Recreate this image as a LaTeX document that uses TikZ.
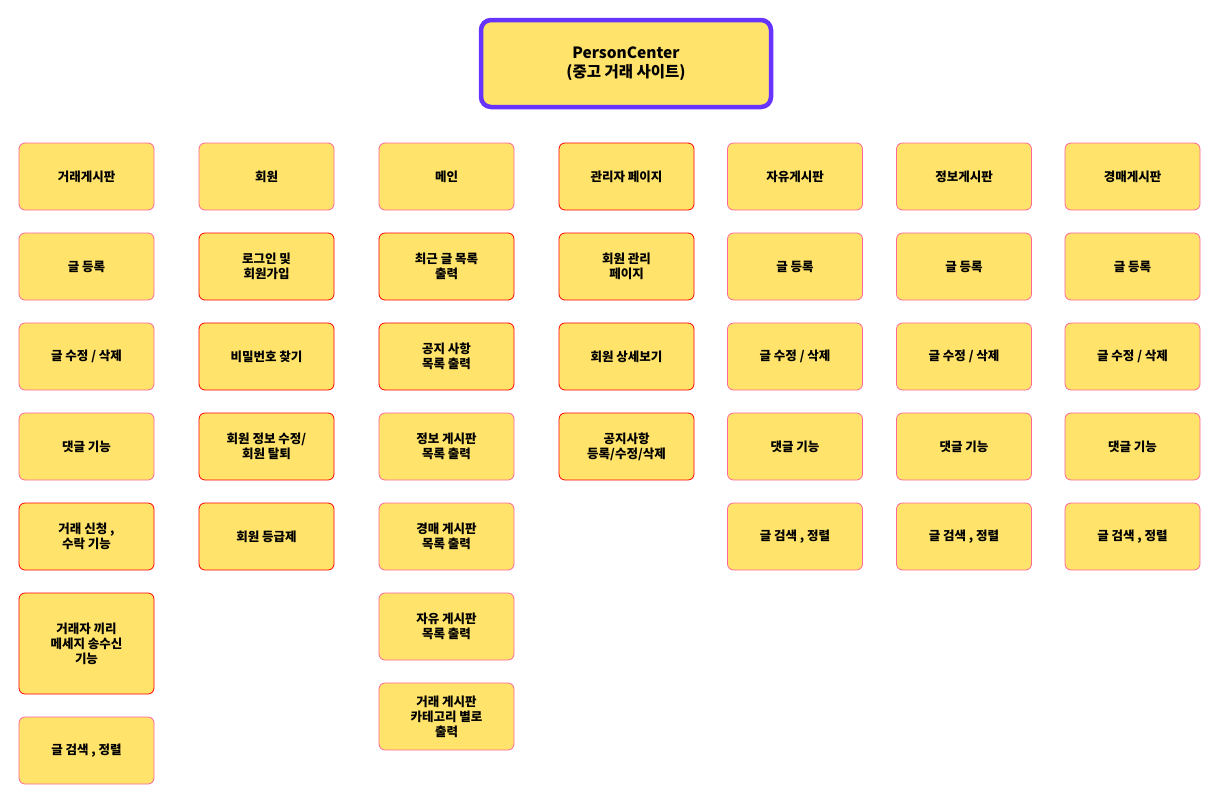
\documentclass[tikz,border=0pt]{standalone}
\usepackage{fontspec}
\setmainfont{Noto Sans CJK KR}
\definecolor{boxfill}{HTML}{FFE36B}
\definecolor{pinkb}{HTML}{FF6699}
\definecolor{redb}{HTML}{FF0000}
\definecolor{purp}{HTML}{6633FF}
\tikzset{
 bx/.style={draw=pinkb,fill=boxfill,rounded corners=6pt,minimum width=135pt,minimum height=67pt,align=center,font=\fontsize{12.5}{15}\selectfont\bfseries,inner sep=2pt,line width=0.8pt},
 rb/.style={bx,draw=redb},
}
\begin{document}
\begin{tikzpicture}[x=1pt,y=-1pt]
\useasboundingbox (0,0) rectangle (1216,796);
\node[draw=purp,line width=4.5pt,fill=boxfill,rounded corners=10pt,minimum width=290pt,minimum height=87pt,align=center,font=\fontsize{15.5}{19}\selectfont\bfseries] (title) at (626,63.5) {PersonCenter\\(중고 거래 사이트)};
% column 1
\node[bx] (a1) at (86.5,176.5) {거래게시판};
\node[bx] (a2) at (86.5,266.5) {글 등록};
\node[bx] (a3) at (86.5,356.5) {글 수정 / 삭제};
\node[bx] (a4) at (86.5,446.5) {댓글 기능};
\node[rb] (a5) at (86.5,536.5) {거래 신청 ,\\수락 기능};
\node[rb,minimum height=101pt] (a6) at (86.5,643.5) {거래자 끼리\\메세지 송수신\\기능};
\node[bx] (a7) at (86.5,750.5) {글 검색 , 정렬};
% column 2
\node[bx] (b1) at (266.5,176.5) {회원};
\node[rb] (b2) at (266.5,266.5) {로그인 및\\회원가입};
\node[rb] (b3) at (266.5,356.5) {비밀번호 찾기};
\node[rb] (b4) at (266.5,446.5) {회원 정보 수정/\\회원 탈퇴};
\node[rb] (b5) at (266.5,536.5) {회원 등급제};
% column 3
\node[bx] (c1) at (446.5,176.5) {메인};
\node[rb] (c2) at (446.5,266.5) {최근 글 목록\\출력};
\node[rb] (c3) at (446.5,356.5) {공지 사항\\목록 출력};
\node[bx] (c4) at (446.5,446.5) {정보 게시판\\목록 출력};
\node[bx] (c5) at (446.5,536.5) {경매 게시판\\목록 출력};
\node[bx] (c6) at (446.5,626.5) {자유 게시판\\목록 출력};
\node[bx] (c7) at (446.5,716.5) {거래 게시판\\카테고리 별로\\출력};
% column 4
\node[rb] (d1) at (626.5,176.5) {관리자 페이지};
\node[rb] (d2) at (626.5,266.5) {회원 관리\\페이지};
\node[rb] (d3) at (626.5,356.5) {회원 상세보기};
\node[rb] (d4) at (626.5,446.5) {공지사항\\등록/수정/삭제};
% columns 5-7
\foreach \n/\x/\t in {e/795/자유게시판,f/964/정보게시판,g/1132.5/경매게시판}{
 \node[bx] (\n1) at (\x,176.5) {\t};
 \node[bx] (\n2) at (\x,266.5) {글 등록};
 \node[bx] (\n3) at (\x,356.5) {글 수정 / 삭제};
 \node[bx] (\n4) at (\x,446.5) {댓글 기능};
 \node[bx] (\n5) at (\x,536.5) {글 검색 , 정렬};
}
\end{tikzpicture}
\end{document}
